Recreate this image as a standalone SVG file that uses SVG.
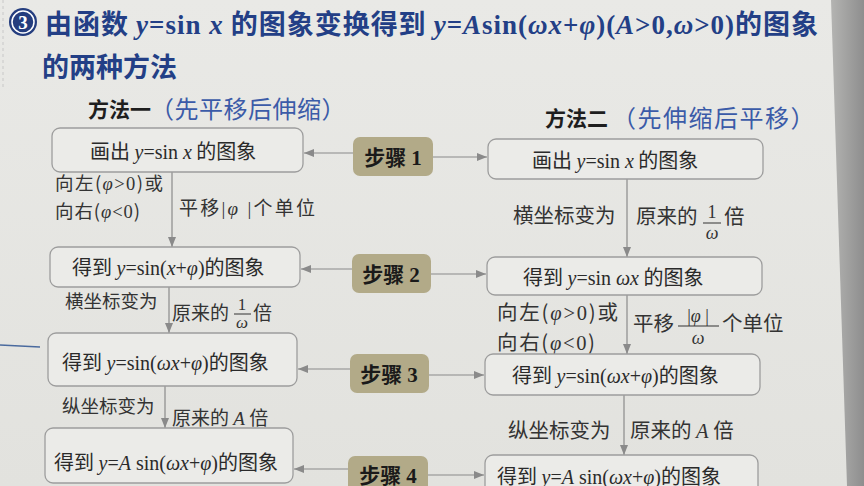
<svg xmlns="http://www.w3.org/2000/svg" width="864" height="486" viewBox="0 0 864 486">
<defs>
<linearGradient id="shade" x1="0" y1="0" x2="1" y2="0">
<stop offset="0" stop-color="#b4b4b2"/>
<stop offset="1" stop-color="#8e8e8e"/>
</linearGradient>
<linearGradient id="paper" x1="0" y1="0" x2="0" y2="1">
<stop offset="0" stop-color="#e9e9e6"/>
<stop offset="1" stop-color="#e2e2de"/>
</linearGradient>
<marker id="ah" markerUnits="userSpaceOnUse" markerWidth="10" markerHeight="8" refX="10" refY="4" orient="auto">
<path d="M0,0 L10,4 L0,8 z" fill="#8a8a8a"/>
</marker>
<style>
.c{font-family:"Noto Sans CJK SC","Noto Sans",sans-serif}
.i{font-family:"Liberation Serif",serif;font-style:italic}
.u{font-family:"Liberation Serif",serif}
.box{fill:#ebebe8;stroke:#9d9d9d;stroke-width:1.3}
.badge{fill:#b2aa88}
.bt{font-family:"Noto Sans CJK SC",sans-serif;font-size:21px;font-weight:bold;fill:#1a1a1a}
.bn{font-family:"Liberation Serif",serif;font-weight:bold}
.t{font-size:20px;fill:#2a2a2a}
.lab{font-size:18.5px;fill:#333}
.lab2{font-size:19px;fill:#333}
.labr{font-size:20.5px;fill:#333}
.con{stroke:#8a8a8a;stroke-width:1.2;fill:none}
.title{font-size:27px;font-weight:bold;fill:#233f86}
.blue{fill:#3b5ba8;font-size:24px}
</style>
</defs>
<rect x="0" y="0" width="864" height="486" fill="url(#paper)"/>
<polygon points="831,0 864,0 864,486 847,486" fill="url(#shade)"/>
<line x1="3" y1="0" x2="3" y2="90" stroke="#c8c8c8" stroke-width="1" stroke-dasharray="3,3"/>
<line x1="0" y1="345" x2="40" y2="347" stroke="#4a6a9e" stroke-width="1.5"/>

<g id="title">
<circle cx="23" cy="22" r="14" fill="#243d7e"/>
<circle cx="23" cy="22" r="11" fill="none" stroke="#ffffff" stroke-width="1.5"/>
<text x="23" y="29" text-anchor="middle" class="u" font-size="19" font-weight="bold" fill="#ffffff">3</text>
<text x="45" y="34" class="title" textLength="773" lengthAdjust="spacing"><tspan class="c">由函数 </tspan><tspan class="i">y</tspan><tspan class="u">=sin </tspan><tspan class="i">x</tspan><tspan class="c"> 的图象变换得到 </tspan><tspan class="i">y</tspan><tspan class="u">=</tspan><tspan class="i">A</tspan><tspan class="u">sin(</tspan><tspan class="i">ωx</tspan><tspan class="u">+</tspan><tspan class="i">φ</tspan><tspan class="u">)(</tspan><tspan class="i">A</tspan><tspan class="u">&gt;0,</tspan><tspan class="i">ω</tspan><tspan class="u">&gt;0)</tspan><tspan class="c">的图象</tspan></text>
<text x="42" y="77" class="title c">的两种方法</text>
</g>

<g id="header1">
<text x="88" y="117" class="c" font-size="21" font-weight="bold" fill="#1e1e1e">方法一</text>
<text x="150" y="118" class="c blue" letter-spacing="0.5">（先平移后伸缩）</text>
</g>
<g id="header2">
<text x="545" y="126" class="c" font-size="21" font-weight="bold" fill="#1e1e1e">方法二</text>
<text x="612" y="127" class="c blue" letter-spacing="1.5">（先伸缩后平移）</text>
</g>

<g id="connectors">
<line class="con" x1="172" y1="172" x2="172" y2="247" marker-end="url(#ah)"/>
<line class="con" x1="169" y1="287" x2="169" y2="333" marker-end="url(#ah)"/>
<line class="con" x1="165" y1="386" x2="165" y2="428" marker-end="url(#ah)"/>
<line class="con" x1="627" y1="179" x2="627" y2="257" marker-end="url(#ah)"/>
<line class="con" x1="627" y1="295" x2="627" y2="354" marker-end="url(#ah)"/>
<line class="con" x1="624" y1="395" x2="624" y2="455" marker-end="url(#ah)"/>
<line class="con" x1="353" y1="153" x2="304" y2="153" marker-end="url(#ah)"/>
<line class="con" x1="433" y1="157" x2="487" y2="157" marker-end="url(#ah)"/>
<line class="con" x1="352" y1="269" x2="301" y2="269" marker-end="url(#ah)"/>
<line class="con" x1="431" y1="274" x2="486" y2="274" marker-end="url(#ah)"/>
<line class="con" x1="350" y1="369" x2="298" y2="369" marker-end="url(#ah)"/>
<line class="con" x1="429" y1="375" x2="484" y2="375" marker-end="url(#ah)"/>
<line class="con" x1="348" y1="469" x2="294" y2="469" marker-end="url(#ah)"/>
<line class="con" x1="428" y1="475" x2="484" y2="475" marker-end="url(#ah)"/>
</g>

<g id="L1">
<rect class="box" x="52" y="128" width="251" height="44" rx="8"/>
<text x="90" y="159" class="t"><tspan class="c">画出 </tspan><tspan class="i">y</tspan><tspan class="u">=sin </tspan><tspan class="i">x</tspan><tspan class="c"> 的图象</tspan></text>
</g>
<g id="L1-label">
<text x="55" y="190" class="lab" textLength="108" lengthAdjust="spacing"><tspan class="c">向左(</tspan><tspan class="i">φ</tspan><tspan class="u">&gt;0</tspan><tspan class="c">)或</tspan></text>
<text x="55" y="218" class="lab" textLength="85" lengthAdjust="spacing"><tspan class="c">向右(</tspan><tspan class="i">φ</tspan><tspan class="u">&lt;0</tspan><tspan class="c">)</tspan></text>
<text x="179" y="215" class="lab2" textLength="136" lengthAdjust="spacing"><tspan class="c">平移</tspan><tspan class="u">|</tspan><tspan class="i">φ</tspan><tspan class="u"> |</tspan><tspan class="c">个单位</tspan></text>
</g>

<g id="L2">
<rect class="box" x="50" y="247" width="250" height="40" rx="8"/>
<text x="72" y="275" class="t" font-size="20.5"><tspan class="c">得到 </tspan><tspan class="i">y</tspan><tspan class="u">=sin(</tspan><tspan class="i">x</tspan><tspan class="u">+</tspan><tspan class="i">φ</tspan><tspan class="u">)</tspan><tspan class="c">的图象</tspan></text>
</g>
<g id="L2-label">
<text x="65" y="308" class="lab c">横坐标变为</text>
<text x="172" y="320" class="lab2 c">原来的</text>
<text x="242" y="310" class="u" font-size="17" text-anchor="middle" fill="#333">1</text>
<line x1="234" y1="314" x2="251" y2="314" stroke="#333" stroke-width="1"/>
<text x="242" y="328" class="i" font-size="17" text-anchor="middle" fill="#333">ω</text>
<text x="253" y="320" class="lab2 c">倍</text>
</g>

<g id="L3">
<rect class="box" x="48" y="333" width="249" height="53" rx="8"/>
<text x="62" y="370" class="t"><tspan class="c">得到 </tspan><tspan class="i">y</tspan><tspan class="u">=sin(</tspan><tspan class="i">ωx</tspan><tspan class="u">+</tspan><tspan class="i">φ</tspan><tspan class="u">)</tspan><tspan class="c">的图象</tspan></text>
</g>
<g id="L3-label">
<text x="62" y="413" class="lab c">纵坐标变为</text>
<text x="172" y="425" class="lab2"><tspan class="c">原来的 </tspan><tspan class="i">A</tspan><tspan class="c"> 倍</tspan></text>
</g>

<g id="L4">
<rect class="box" x="45" y="428" width="248" height="55" rx="8"/>
<text x="54" y="470" class="t" font-size="21"><tspan class="c">得到 </tspan><tspan class="i">y</tspan><tspan class="u">=</tspan><tspan class="i">A</tspan><tspan class="u"> sin(</tspan><tspan class="i">ωx</tspan><tspan class="u">+</tspan><tspan class="i">φ</tspan><tspan class="u">)</tspan><tspan class="c">的图象</tspan></text>
</g>

<g id="S1">
<rect class="badge" x="353" y="137" width="80" height="39" rx="7"/>
<text x="393" y="165" class="bt" text-anchor="middle">步骤 <tspan class="bn">1</tspan></text>
</g>
<g id="S2">
<rect class="badge" x="352" y="254" width="79" height="39" rx="7"/>
<text x="391" y="282" class="bt" text-anchor="middle">步骤 <tspan class="bn">2</tspan></text>
</g>
<g id="S3">
<rect class="badge" x="350" y="354" width="79" height="39" rx="7"/>
<text x="389" y="382" class="bt" text-anchor="middle">步骤 <tspan class="bn">3</tspan></text>
</g>
<g id="S4">
<rect class="badge" x="348" y="456" width="80" height="45" rx="7"/>
<text x="388" y="483" class="bt" text-anchor="middle">步骤 <tspan class="bn">4</tspan></text>
</g>

<g id="R1">
<rect class="box" x="488" y="139" width="275" height="40" rx="8"/>
<text x="532" y="168" class="t"><tspan class="c">画出 </tspan><tspan class="i">y</tspan><tspan class="u">=sin </tspan><tspan class="i">x</tspan><tspan class="c"> 的图象</tspan></text>
</g>
<g id="R1-label">
<text x="513" y="223" class="labr c">横坐标变为</text>
<text x="636" y="224" class="labr c">原来的</text>
<text x="712" y="218" class="u" font-size="18" text-anchor="middle" fill="#333">1</text>
<line x1="703" y1="223" x2="721" y2="223" stroke="#333" stroke-width="1"/>
<text x="712" y="239" class="i" font-size="18" text-anchor="middle" fill="#333">ω</text>
<text x="724" y="224" class="labr c">倍</text>
</g>

<g id="R2">
<rect class="box" x="487" y="257" width="275" height="38" rx="8"/>
<text x="523" y="285" class="t"><tspan class="c">得到 </tspan><tspan class="i">y</tspan><tspan class="u">=sin </tspan><tspan class="i">ωx</tspan><tspan class="c"> 的图象</tspan></text>
</g>
<g id="R2-label">
<text x="497" y="320" class="labr" textLength="121" lengthAdjust="spacing"><tspan class="c">向左(</tspan><tspan class="i">φ</tspan><tspan class="u">&gt;0</tspan><tspan class="c">)或</tspan></text>
<text x="497" y="350" class="labr" textLength="98" lengthAdjust="spacing"><tspan class="c">向右(</tspan><tspan class="i">φ</tspan><tspan class="u">&lt;0</tspan><tspan class="c">)</tspan></text>
<text x="633" y="331" class="labr c">平移</text>
<text x="698" y="322" font-size="18" text-anchor="middle" fill="#333"><tspan class="u">|</tspan><tspan class="i">φ</tspan><tspan class="u"> |</tspan></text>
<line x1="678" y1="326" x2="719" y2="326" stroke="#333" stroke-width="1"/>
<text x="698" y="344" class="i" font-size="18" text-anchor="middle" fill="#333">ω</text>
<text x="722" y="331" class="labr c">个单位</text>
</g>

<g id="R3">
<rect class="box" x="485" y="354" width="275" height="41" rx="8"/>
<text x="512" y="383" class="t"><tspan class="c">得到 </tspan><tspan class="i">y</tspan><tspan class="u">=sin(</tspan><tspan class="i">ωx</tspan><tspan class="u">+</tspan><tspan class="i">φ</tspan><tspan class="u">)</tspan><tspan class="c">的图象</tspan></text>
</g>
<g id="R3-label">
<text x="508" y="438" class="labr c">纵坐标变为</text>
<text x="630" y="438" class="labr"><tspan class="c">原来的 </tspan><tspan class="i">A</tspan><tspan class="c"> 倍</tspan></text>
</g>

<g id="R4">
<rect class="box" x="485" y="455" width="273" height="50" rx="8"/>
<text x="497" y="484" class="t" font-size="21"><tspan class="c">得到 </tspan><tspan class="i">y</tspan><tspan class="u">=</tspan><tspan class="i">A</tspan><tspan class="u"> sin(</tspan><tspan class="i">ωx</tspan><tspan class="u">+</tspan><tspan class="i">φ</tspan><tspan class="u">)</tspan><tspan class="c">的图象</tspan></text>
</g>
</svg>
